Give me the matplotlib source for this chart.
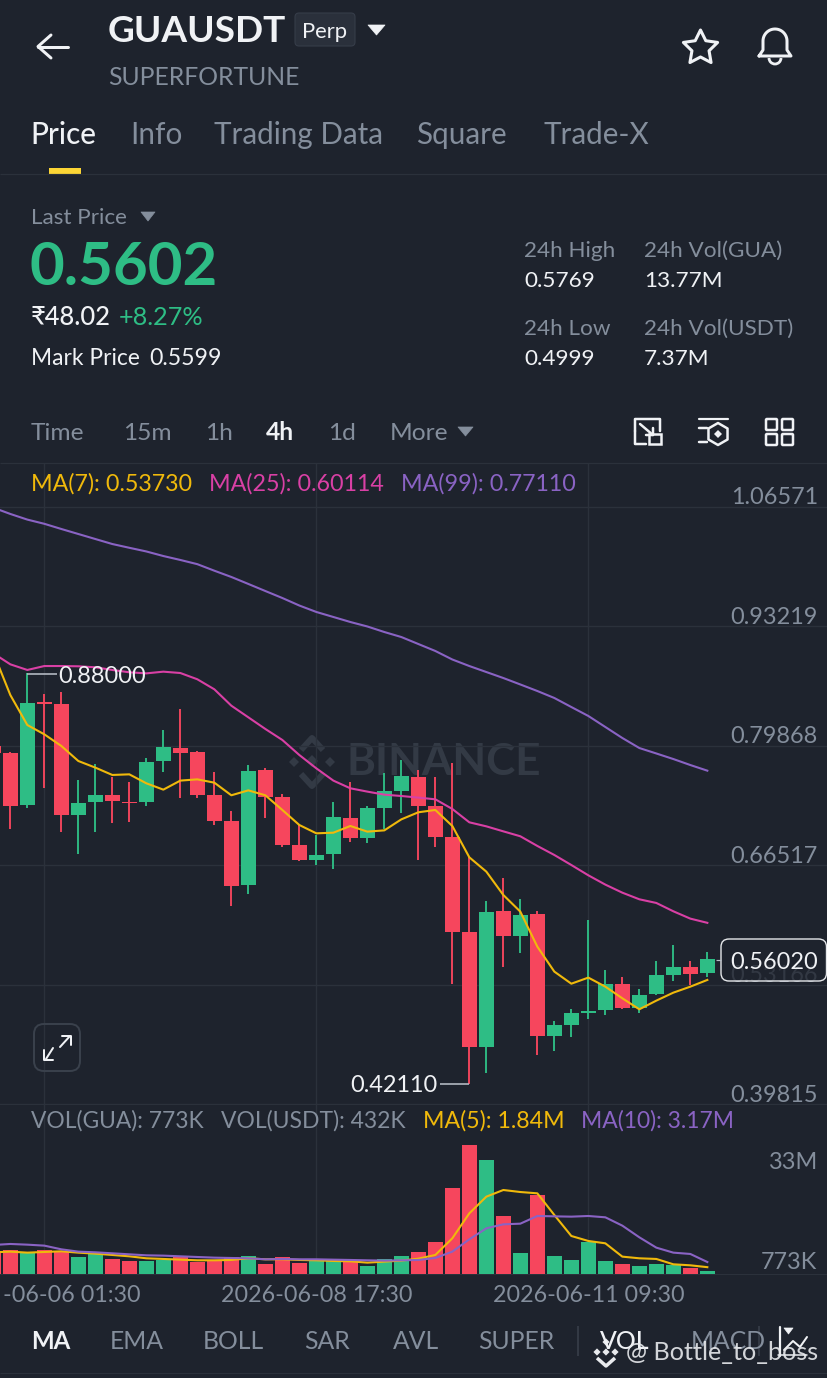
import numpy as np
import matplotlib
matplotlib.use("Agg")
import matplotlib.pyplot as plt
from matplotlib.patches import FancyBboxPatch, Polygon, Rectangle, Arc

plt.rcParams['font.family'] = ['Lato', 'DejaVu Sans']

# ---------- data ----------
opens = [.7990,.7905,.7324,.8475,.8456,.7212,.7358,.7443,.7365,.7365,.7815,.7968,.7916,.7443,.7145,.6430,.7715,.7413,.6881,.6717,.6780,.7186,.6959,.7298,.7480,.7644,.7320,.6966,.5905,.4620,.6143,.5860,.6106,.4747,.4866,.5008,.5037,.5332,.5056,.5212,.5432,.5522,.5447]
highs = [.8000,.7923,.8800,.8564,.8586,.7611,.7782,.7637,.7581,.7856,.8162,.8396,.7927,.7692,.7257,.7771,.7745,.7454,.7104,.6992,.7365,.7581,.7316,.7681,.7827,.7719,.7644,.7793,.6750,.6251,.6512,.6274,.6147,.4911,.5045,.6043,.5484,.5402,.5276,.5581,.5767,.5581,.5682]
lows = [.7880,.7056,.7290,.7521,.7022,.6776,.7022,.7126,.7141,.7313,.7700,.7406,.7410,.7108,.6199,.6330,.7179,.6862,.6698,.6661,.6616,.6910,.6907,.7056,.7242,.6713,.6855,.5328,.4211,.4337,.5518,.5670,.4531,.4583,.4732,.4933,.4978,.5045,.5000,.5201,.5365,.5313,.5402]
closes = [.7912,.7320,.8471,.8452,.7212,.7354,.7439,.7369,.7346,.7808,.7976,.7912,.7439,.7149,.6419,.7711,.7421,.6881,.6709,.6773,.7190,.6959,.7298,.7488,.7648,.7316,.6966,.5905,.4620,.6136,.5860,.6099,.4747,.4866,.5004,.5030,.5332,.5064,.5209,.5432,.5522,.5439,.5602]
ma7 = [.9029,.8556,.8221,.8117,.7987,.7819,.7745,.7663,.7670,.7570,.7499,.7600,.7614,.7577,.7436,.7491,.7436,.7272,.7104,.7011,.7018,.7093,.7030,.7044,.7167,.7246,.7272,.7093,.6743,.6583,.6322,.6136,.5745,.5466,.5331,.5399,.5298,.5168,.5045,.5142,.5231,.5298,.5373]
ma25 = [.9022,.8899,.8836,.8880,.8880,.8877,.8866,.8836,.8810,.8798,.8817,.8802,.8732,.8620,.8437,.8307,.8177,.8054,.7886,.7737,.7600,.7514,.7477,.7443,.7428,.7410,.7391,.7283,.7134,.7089,.7033,.6978,.6870,.6769,.6657,.6542,.6438,.6348,.6274,.6233,.6140,.6058,.6011]
ma99 = [1.0649,1.0579,1.0516,1.0469,1.0411,1.0355,1.0299,1.0243,1.0201,1.0160,1.0109,1.0065,1.0018,.9945,.9875,.9797,.9718,.9640,.9556,.9484,.9428,.9372,.9322,.9260,.9204,.9126,.9048,.8953,.8880,.8813,.8746,.8674,.8601,.8523,.8422,.8322,.8199,.8076,.7964,.7903,.7841,.7774,.7711]
volumes = [6.11,6.28,5.42,6.28,5.68,4.47,5.33,3.87,3.35,3.53,3.61,4.56,3.10,3.70,4.56,4.73,2.67,4.56,2.92,3.35,3.44,3.10,2.15,4.04,4.73,5.76,8.34,22.36,33.37,29.58,15.05,5.59,20.38,4.73,3.61,8.34,3.35,2.67,2.15,2.58,2.32,1.55,.773]
vol_ma5 = [5.68,5.85,5.59,5.76,5.93,5.59,5.33,4.99,4.64,4.13,3.96,3.78,3.61,3.61,3.70,4.13,3.87,3.87,3.70,3.61,3.44,3.35,3.01,3.27,3.53,4.04,4.99,9.29,15.74,20.04,21.76,21.24,20.90,15.31,9.89,8.60,8.00,4.56,4.13,3.96,2.58,2.32,1.84]
vol_ma10 = [7.57,7.83,7.65,7.40,6.45,5.85,5.68,5.42,5.16,4.90,4.82,4.64,4.47,4.30,4.21,4.13,3.87,3.96,3.87,3.87,3.78,3.70,3.61,3.53,3.61,3.70,4.21,5.85,9.03,11.87,12.90,13.07,15.05,14.96,14.88,15.05,14.71,12.56,9.55,6.88,5.59,5.25,3.17]
price_ticks = [1.06571,.93219,.79868,.66517,.53166,.39815]
price_labels = ['1.06571','0.93219','0.79868','0.66517','0.53166','0.39815']
date_ticks = [2,18,34]
date_labels = ['-06-06 01:30','2026-06-08 17:30','2026-06-11 09:30']
date_shift = [27,0,0]

# ---------- style ----------
BG='#1e232d'; GRID='#2b313b'; GREEN='#2ebd85'; RED='#f6465d'; YEL='#f0b90b'
PINK='#d940a5'; PUR='#8a63c4'; GRAY='#848e9c'; WHITE='#f0f2f5'
W,H=828,1378
def fs(px): return px*0.72

fig=plt.figure(figsize=(W/100,H/100),dpi=100,facecolor=BG)
def axpx(x0,y0,x1,y1,**k):
    return fig.add_axes([x0/W,1-y1/H,(x1-x0)/W,(y1-y0)/H],**k)

xs=np.arange(-1,42)
o,h,l,c=map(np.array,(opens,highs,lows,closes))
cols=[GREEN if cc>=oo else RED for oo,cc in zip(o,c)]
xlim=(-10.33/17,(W-10.33)/17)

# ---------- price panel ----------
ax=axpx(0,463,W,1105,facecolor='none',zorder=2)
ax.set_xlim(*xlim); ax.set_ylim(1.63209-0.0011172*1105,1.63209-0.0011172*463)
ax.set_yticks(price_ticks); ax.set_xticks(date_ticks)
ax.grid(True,color=GRID,lw=1.0); ax.set_axisbelow(True)
ax.tick_params(length=0,labelleft=False,labelbottom=False)
for s in ax.spines.values(): s.set_visible(False)
ax.vlines(xs,l,h,colors=cols,lw=1.35,zorder=3)
ax.bar(xs,np.maximum(np.abs(c-o),0.0015),bottom=np.minimum(o,c),width=0.88,color=cols,lw=0,zorder=3)
ax.plot(xs,ma99,color=PUR,lw=1.5,zorder=4,solid_joinstyle='round')
ax.plot(xs,ma25,color=PINK,lw=1.5,zorder=4,solid_joinstyle='round')
ax.plot(xs,ma7,color=YEL,lw=1.5,zorder=4,solid_joinstyle='round')
for p,t in zip(price_ticks,price_labels):
    ax.annotate(t,xy=(1,p),xycoords=ax.get_yaxis_transform(),xytext=(-10,2.5),textcoords='offset pixels',
                ha='right',va='baseline',color=GRAY,fontsize=fs(23.5),annotation_clip=False,zorder=5)

# ---------- volume panel ----------
av=axpx(0,1105,W,1274.3,facecolor='none',zorder=2)
av.set_xlim(*xlim); av.set_ylim(0,43.7)
av.set_xticks(date_ticks); av.set_yticks([])
av.grid(True,axis='x',color=GRID,lw=1.0); av.set_axisbelow(True)
av.tick_params(length=0,labelleft=False,labelbottom=False)
for n,s in av.spines.items(): s.set_visible(n=='bottom'); s.set_color(GRID)
av.bar(xs,volumes,width=0.88,color=cols,lw=0,zorder=3)
av.plot(xs,vol_ma5,color=YEL,lw=1.5,zorder=4)
av.plot(xs,vol_ma10,color=PUR,lw=1.5,zorder=4)
for d,t,sh in zip(date_ticks,date_labels,date_shift):
    av.annotate(t,xy=(d,0),xycoords=av.get_xaxis_transform(),xytext=(sh,-28),textcoords='offset pixels',
                ha='center',va='baseline',color=GRAY,fontsize=fs(23.3),annotation_clip=False)

# ---------- overlay in pixel coordinates ----------
ui=fig.add_axes([0,0,1,1],facecolor='none',zorder=5)
ui.set_xlim(0,W); ui.set_ylim(H,0); ui.axis('off')
bg=fig.add_axes([0,0,1,1],facecolor='none',zorder=1)
bg.set_xlim(0,W); bg.set_ylim(H,0); bg.axis('off')

def T(x,y,s,px,col=GRAY,w='normal',ha='left',a=None,target=None):
    (target or ui).text(x,y,s,fontsize=fs(px),color=col,fontweight=w,ha=ha,va='baseline',alpha=a)
def L(xx,yy,col=WHITE,lw=2.2,target=None,**k):
    (target or ui).plot(xx,yy,color=col,lw=lw*0.72,solid_capstyle=k.pop('cap','round'),solid_joinstyle='round',**k)
def TRI(x0,x1,y0,y1,col):
    ui.add_patch(Polygon([(x0,y0),(x1,y0),((x0+x1)/2,y1)],closed=True,fc=col,ec=col,lw=0.5,joinstyle='round'))

# header
L([68,38],[46.5,46.5],lw=3); L([51,38,51],[35,46.5,58],lw=3)
T(108,42,'GUAUSDT',37,WHITE,'bold')
ui.add_patch(FancyBboxPatch((295,13),60,33,boxstyle='round,pad=0,rounding_size=4',fc='#2a303b',ec='#363d49',lw=0.8))
T(325,38,'Perp',22,WHITE,ha='center')
TRI(368,385,25,35,WHITE)
T(108,85,'SUPERFORTUNE',24.7,GRAY)
s=[(700.5+18*np.sin(a)*(1 if j%2==0 else .5),48-18*np.cos(a)*(1 if j%2==0 else .5)) for j,a in enumerate(np.arange(10)*np.pi/5)]
ui.add_patch(Polygon(s,closed=True,fc='none',ec=WHITE,lw=2.2,joinstyle='round'))
t=np.linspace(np.pi,0,30)
bx=list(775+12*np.cos(t)); by=list(41-12*np.sin(t))
L([759,763]+bx+[787,791,759],[56,50]+by+[50,56,56],lw=3)
ui.add_patch(Arc((775,58),12,12,theta1=0,theta2=180,ec=WHITE,lw=2))
for x,s_,col in [(30.5,'Price',WHITE),(130.5,'Info',GRAY),(214,'Trading Data',GRAY),(416,'Square',GRAY),(543.5,'Trade-X',GRAY)]:
    T(x,144,s_,29.6,col,w='medium' if col==WHITE else 'normal')
ui.add_patch(Rectangle((49,168),32,5.5,fc='#fcd535',lw=0))
L([0,W],[173.5,173.5],GRID,1.2,cap='butt')

# price block
T(31,224,'Last Price',22.5); TRI(141,155,212,221,GRAY)
T(30,285,'0.5602',60,GREEN,'bold')
T(31,325,'₹48.02',25.5,WHITE,'medium'); T(119,325,'+8.27%',25.3,GREEN)
T(31,365,'Mark Price',22.7,WHITE); T(149,365,'0.5599',23,WHITE)
for x,a_,b_,c_,d_ in [(524,'24h High','0.5769','24h Low','0.4999'),(644,'24h Vol(GUA)','13.77M','24h Vol(USDT)','7.37M')]:
    T(x,257,a_,22.5); T(x,287,b_,22.5,WHITE); T(x,335,c_,22.5); T(x,365,d_,22.5,WHITE)

# interval row
for x,s_,col,w_ in [(31,'Time',GRAY,'normal'),(123,'15m',GRAY,'normal'),(205,'1h',GRAY,'normal'),(266,'4h',WHITE,'bold'),(328,'1d',GRAY,'normal'),(390,'More',GRAY,'normal')]:
    T(x,440,s_,24.5,col,w_)
TRI(458,473,427,436,GRAY)
L([635,635,660,660],[431,419,419,431],lw=2.5); L([635,635,646],[431,444,444],lw=2.5)
L([640,653],[424,435],lw=2.5); L([646,653,653],[435,435,428],lw=2.5)
ui.add_patch(Rectangle((649,434),12,10,fc='none',ec=WHITE,lw=1.8))
L([699,728],[419,419],lw=2.2); L([699,707],[428,428],lw=2.5); L([699,707],[442,442],lw=2.5)
hx=[(718+11*np.sin(a),434-11*np.cos(a)) for a in np.arange(6)*np.pi/3]
ui.add_patch(Polygon(hx,closed=True,fc='none',ec=WHITE,lw=1.8,joinstyle='round'))
ui.add_patch(Polygon([(718,430),(722,434),(718,438),(714,434)],closed=True,fc=WHITE,lw=0))
for xx in (766,782):
    for yy in (419,434):
        ui.add_patch(FancyBboxPatch((xx,yy),11,11,boxstyle='round,pad=0,rounding_size=1',fc='none',ec=WHITE,lw=1.8))
L([0,W],[462.5,462.5],GRID,1.2,cap='butt')

# legends
T(31,490.5,'MA(7): 0.53730',23.2,YEL); T(209,490.5,'MA(25): 0.60114',23.2,PINK); T(401,490.5,'MA(99): 0.77110',23.2,PUR)
T(31,1127.5,'VOL(GUA): 773K',22.8); T(221,1127.5,'VOL(USDT): 432K',22.9)
T(423,1127.5,'MA(5): 1.84M',23.1,YEL); T(581,1127.5,'MA(10): 3.17M',22.9,PUR)
T(817,1169,'33M',23.5,ha='right'); T(817,1269,'773K',23.5,ha='right')

# BINANCE watermark
WM='#333a45'
T(347,775,'BINANCE',44,WM,'bold',target=bg)
def dia(cx,cy,r,col=WM,target=bg):
    target.add_patch(Polygon([(cx,cy-r),(cx+r,cy),(cx,cy+r),(cx-r,cy)],closed=True,fc=col,lw=0))
dia(312,761,6)
dia(294,762,5); dia(330,762,5)
for sgn in (-1,1):
    yy=762+sgn*12
    L([301,312,323],[yy,yy+sgn*12,yy],WM,6,target=bg,cap='butt')

# extreme labels
T(58.5,683,'0.88000',23.5,WHITE); L([27,57],[674,674],'#b7bdc6',1.6,cap='butt')
T(350.5,1092,'0.42110',23.5,WHITE); L([440,469],[1083.5,1083.5],'#b7bdc6',1.6,cap='butt')

# last price box
L([716,721],[960,960],'#b7bdc6',1.2,cap='butt')
ui.add_patch(FancyBboxPatch((721,939),105.5,42,boxstyle='round,pad=0,rounding_size=8',fc=BG,alpha=.8,ec='none'))
ui.add_patch(FancyBboxPatch((721,939),105.5,42,boxstyle='round,pad=0,rounding_size=8',fc='none',ec='#e5e7ea',lw=1.0))
T(730.5,969,'0.56020',23.5,WHITE)

# expand button
ui.add_patch(FancyBboxPatch((34,1024),46,47,boxstyle='round,pad=0,rounding_size=10',fc='none',ec='#3a414c',lw=1.4))
L([46,53],[1059,1048],lw=2); L([60,70],[1047,1036],lw=2)
L([62,71,71],[1036,1036,1045],lw=2); L([44,44,53],[1050,1060,1060],lw=2)

# bottom tabs
for x,s_,col,w_ in [(31,'MA',WHITE,'bold'),(110,'EMA',GRAY,'normal'),(203,'BOLL',GRAY,'normal'),(304,'SAR',GRAY,'normal'),(393,'AVL',GRAY,'normal'),(478,'SUPER',GRAY,'normal'),(600,'VOL',WHITE,'medium'),(691,'MACD',GRAY,'normal')]:
    T(x,1349,s_,24.7 if w_!='bold' else 24,col,w_)
L([578.5,578.5],[1326,1356],'#3a414c',1.5,cap='butt'); L([759.5,759.5],[1326,1356],'#3a414c',1.5,cap='butt')
L([780,780],[1327,1356],lw=2.2); L([778,807],[1355,1355],lw=1.5)
TRI(784,793,1328,1334,WHITE); L([784,793,800,807],[1350,1341,1347,1337],lw=2)
L([0,W],[1372.5,1372.5],GRID,1.0,cap='butt')

# author watermark
T(626,1360,'@ Bottle_to_boss',25.3,'#e8eaed',a=.9)
for cx,cy in [(597,1352),(606,1342),(615,1352),(606,1352)]:
    dia(cx,cy,3.6,'#e8eaed',ui)
L([597,606,615],[1358,1366,1358],'#e8eaed',3.5,cap='butt')

fig.savefig('out.png',dpi=100,facecolor=BG)
